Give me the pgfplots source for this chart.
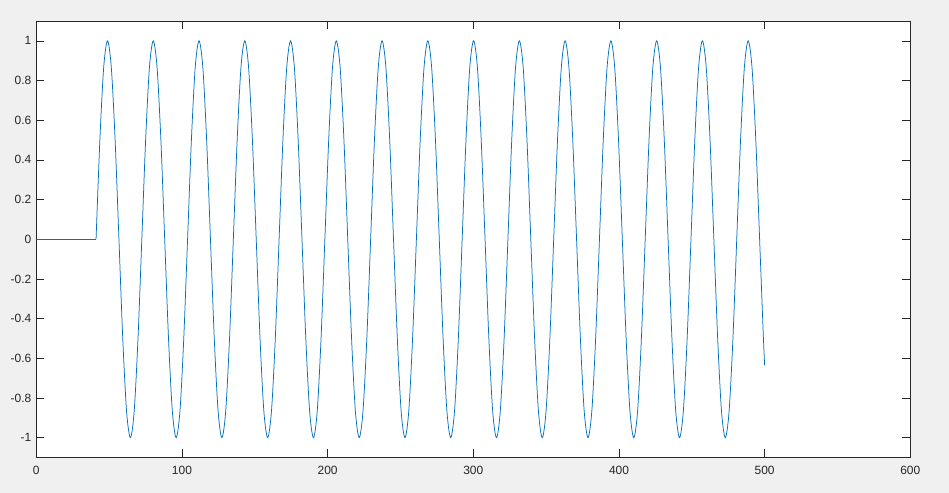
\documentclass[border=0pt]{standalone}
\usepackage{fontspec}
\setmainfont{Liberation Sans}
\usepackage{pgfplots}
\pgfplotsset{compat=1.18}
\definecolor{mblue}{RGB}{0,114,189}
\definecolor{figbg}{RGB}{240,240,240}
\definecolor{axcol}{RGB}{38,38,38}
\begin{document}
\begin{tikzpicture}[x=1bp,y=1bp]
\fill[figbg] (0,0) rectangle (949,493);
\begin{axis}[
  at={(36.3bp,35.5bp)}, anchor=south west,
  scale only axis, width=874bp, height=436.5bp,
  xmin=0, xmax=600, ymin=-1.1, ymax=1.1,
  axis background/.style={fill=white},
  xtick={0,100,200,300,400,500,600},
  xticklabels={0,100,200,300,400,500,600},
  ytick={-1,-0.8,-0.6,-0.4,-0.2,0,0.2,0.4,0.6,0.8,1},
  yticklabels={-1,-0.8,-0.6,-0.4,-0.2,0,0.2,0.4,0.6,0.8,1},
  tick align=inside, major tick length=8bp,
  every tick/.style={axcol, line width=0.6bp},
  axis line style={axcol, line width=0.75bp},
  ticklabel style={font=\fontsize{12}{14}\selectfont, text=axcol},
  xticklabel style={yshift=-5.3bp},
  yticklabel style={xshift=-1.5bp},
]
\addplot[mblue, line width=0.75bp] coordinates {(0,0) (41.02,0)};
\addplot[mblue, line width=0.75bp, smooth] coordinates {
(41.02,0) (43.64,0.5) (46.26,0.866) (48.87,1) (51.49,0.866) (54.11,0.5) (56.73,0) (59.35,-0.5) (61.96,-0.866) (64.58,-1) (67.20,-0.866) (69.82,-0.5)
(72.44,0) (75.05,0.5) (77.67,0.866) (80.29,1) (82.91,0.866) (85.53,0.5) (88.14,0) (90.76,-0.5) (93.38,-0.866) (96.00,-1) (98.62,-0.866) (101.23,-0.5)
(103.85,0) (106.47,0.5) (109.09,0.866) (111.71,1) (114.32,0.866) (116.94,0.5) (119.56,0) (122.18,-0.5) (124.80,-0.866) (127.41,-1) (130.03,-0.866) (132.65,-0.5)
(135.27,0) (137.89,0.5) (140.50,0.866) (143.12,1) (145.74,0.866) (148.36,0.5) (150.98,0) (153.59,-0.5) (156.21,-0.866) (158.83,-1) (161.45,-0.866) (164.07,-0.5)
(166.68,0) (169.30,0.5) (171.92,0.866) (174.54,1) (177.16,0.866) (179.77,0.5) (182.39,0) (185.01,-0.5) (187.63,-0.866) (190.25,-1) (192.86,-0.866) (195.48,-0.5)
(198.10,0) (200.72,0.5) (203.34,0.866) (205.95,1) (208.57,0.866) (211.19,0.5) (213.81,0) (216.43,-0.5) (219.04,-0.866) (221.66,-1) (224.28,-0.866) (226.90,-0.5)
(229.52,0) (232.13,0.5) (234.75,0.866) (237.37,1) (239.99,0.866) (242.61,0.5) (245.22,0) (247.84,-0.5) (250.46,-0.866) (253.08,-1) (255.70,-0.866) (258.31,-0.5)
(260.93,0) (263.55,0.5) (266.17,0.866) (268.79,1) (271.40,0.866) (274.02,0.5) (276.64,0) (279.26,-0.5) (281.88,-0.866) (284.49,-1) (287.11,-0.866) (289.73,-0.5)
(292.35,0) (294.97,0.5) (297.58,0.866) (300.20,1) (302.82,0.866) (305.44,0.5) (308.06,0) (310.67,-0.5) (313.29,-0.866) (315.91,-1) (318.53,-0.866) (321.15,-0.5)
(323.76,0) (326.38,0.5) (329.00,0.866) (331.62,1) (334.24,0.866) (336.85,0.5) (339.47,0) (342.09,-0.5) (344.71,-0.866) (347.33,-1) (349.94,-0.866) (352.56,-0.5)
(355.18,0) (357.80,0.5) (360.42,0.866) (363.03,1) (365.65,0.866) (368.27,0.5) (370.89,0) (373.51,-0.5) (376.12,-0.866) (378.74,-1) (381.36,-0.866) (383.98,-0.5)
(386.60,0) (389.21,0.5) (391.83,0.866) (394.45,1) (397.07,0.866) (399.69,0.5) (402.30,0) (404.92,-0.5) (407.54,-0.866) (410.16,-1) (412.78,-0.866) (415.39,-0.5)
(418.01,0) (420.63,0.5) (423.25,0.866) (425.87,1) (428.48,0.866) (431.10,0.5) (433.72,0) (436.34,-0.5) (438.96,-0.866) (441.57,-1) (444.19,-0.866) (446.81,-0.5)
(449.43,0) (452.05,0.5) (454.66,0.866) (457.28,1) (459.90,0.866) (462.52,0.5) (465.14,0) (467.75,-0.5) (470.37,-0.866) (472.99,-1) (475.61,-0.866) (478.23,-0.5)
(480.84,0) (483.46,0.5) (486.08,0.866) (488.70,1) (491.32,0.866) (493.93,0.5) (496.55,0) (499.17,-0.5) (500,-0.636)
};
\end{axis}
\end{tikzpicture}
\end{document}
